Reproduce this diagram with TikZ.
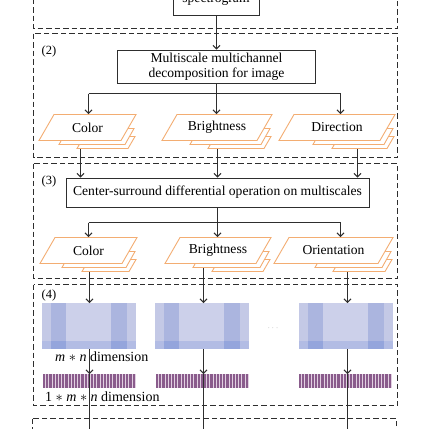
\documentclass[tikz,border=0pt]{standalone}
\usepackage{fontspec}
\setmainfont{Liberation Serif}
\usetikzlibrary{arrows.meta}
\definecolor{lnc}{HTML}{2E2E2E}
\definecolor{orng}{HTML}{F3AD72}
\definecolor{bluebase}{HTML}{C4C9E6}
\definecolor{bluemid}{HTML}{CCD0EA}
\definecolor{bluestripe}{HTML}{ABB5DF}
\definecolor{bluebot}{HTML}{B2BCE4}
\definecolor{bluedark}{HTML}{94A5DC}
\definecolor{purp}{HTML}{8A5C8C}
\definecolor{pinkgap}{HTML}{E2D0E2}
\tikzset{
  grp/.style={draw=lnc, dash pattern=on 5.5pt off 3pt, line width=1pt},
  boxed/.style={draw=lnc, line width=1pt, fill=white, align=center, font=\fontsize{13.6}{15}\selectfont, inner sep=0pt},
  arr/.style={draw=lnc, line width=1pt, -{Straight Barb[length=3.5pt,width=7pt]}},
  plain/.style={draw=lnc, line width=1pt},
  lay/.style={draw=orng, line width=0.9pt, fill=white},
  lbl/.style={font=\fontsize{13.6}{15}\selectfont, inner sep=0pt},
  num/.style={font=\fontsize{12.5}{14}\selectfont, inner sep=0pt},
  dimtext/.style={font=\fontsize{14}{16}\selectfont, inner sep=0pt, anchor=west},
}
% #1 bx, #2 bottom y, #3 width, #4 name, #5 text, #6 layer2 offset, #7 layer3 offset
\newcommand\layerstack[7]{%
  \draw[lay] (#1+#7,#2+8) -- (#1+#3+7,#2+8) -- (#1+#3+14,#2-4) -- (#1+#7+7,#2-4) -- cycle;
  \draw[lay] (#1+#6,#2+4) -- (#1+#3+4,#2+4) -- (#1+#3+13,#2-12) -- (#1+#6+9,#2-12) -- cycle;
  \draw[lay] (#1,#2) -- (#1+#3,#2) -- (#1+#3+15,#2-26) -- (#1+15,#2-26) -- cycle;
  \node[lbl] (#4) at (#1+#3/2+7.5,#2-13) {#5};
}
% #1 left x, #2 name
\newcommand\bluebox[2]{%
  \fill[bluebase] (#1,303) rectangle (#1+94,349);
  \fill[bluemid] (#1+24,303) rectangle (#1+69,341);
  \fill[bluestripe] (#1+9,303) rectangle (#1+24,349);
  \fill[bluestripe] (#1+69,303) rectangle (#1+85,349);
  \fill[bluebot] (#1,341) rectangle (#1+94,349);
  \fill[bluedark] (#1+9,341) rectangle (#1+24,349);
  \fill[bluedark] (#1+69,341) rectangle (#1+85,349);
  \node[minimum width=94pt, minimum height=46pt, inner sep=0pt, anchor=north west] (#2) at (#1,303) {};
}
\newcommand\barcode[2]{%
  \fill[pinkgap] (#1,374) rectangle (#1+93,388);
  \foreach \i in {0,...,28} {\fill[purp] (#1+\i*3.2,374) rectangle ++(2.2,14);}
  \node[minimum width=93pt, minimum height=14pt, inner sep=0pt, anchor=north west] (#2) at (#1,374) {};
}
\begin{document}
\begin{tikzpicture}[x=1pt,y=-1pt]
\useasboundingbox (0,0) rectangle (429,429);
\clip (0,0) rectangle (429,429);
\fill[white] (0,0) rectangle (429,429);

% group frames
\draw[grp] (33.5,-10) rectangle (397.5,28.5);
\draw[grp] (33.5,33.5) rectangle (397.5,157.5);
\draw[grp] (33.5,163.5) rectangle (397.5,278.5);
\draw[grp] (33.5,284.5) rectangle (397.5,405.5);
\draw[grp] (32.5,418.5) rectangle (396.5,440);

\node[num] (n2) at (49,51) {(2)};
\node[num] (n3) at (49,181) {(3)};
\node[num] (n4) at (49,295) {(4)};

% (1)
\node[boxed, minimum width=86pt, minimum height=36pt] (spec) at (216.5,-3) {};
\node[lbl, anchor=base] (spectxt) at (216,2) {spectrogram};

% (2)
\node[boxed, minimum width=198pt, minimum height=33pt] (multi) at (216.5,66.5)
  {Multiscale multichannel\\decomposition for image};
\draw[arr] (spec.south) -- (multi.north);

\layerstack{39}{140.5}{82}{c2}{Color}{20}{38}
\layerstack{162}{140.5}{95}{b2}{Brightness}{28}{46}
\layerstack{279}{140.5}{101}{d2}{Direction}{34}{53}

\coordinate (s2) at (216.5,93.5);
\coordinate (s2l) at (88.5,93.5);
\coordinate (s2r) at (340.5,93.5);
\coordinate (c2t) at (88.5,114);
\coordinate (b2t) at (216.5,114);
\coordinate (d2t) at (340.5,114);
\draw[plain] (multi.south) -- (s2);
\draw[plain] (s2l) -- (s2r);
\draw[arr] (s2l) -- (c2t);
\draw[arr] (s2) -- (b2t);
\draw[arr] (s2r) -- (d2t);

% (3)
\node[boxed, minimum width=303pt, minimum height=29pt] (cs) at (217.5,192.5)
  {Center-surround differential operation on multiscales};
\coordinate (c2o) at (80.5,149);
\coordinate (b2o) at (217.5,149);
\coordinate (d2o) at (357.5,149);
\draw[arr] (c2o) -- (c2o |- cs.north);
\draw[arr] (b2o) -- (b2o |- cs.north);
\draw[arr] (d2o) -- (d2o |- cs.north);

\layerstack{40}{263.5}{82}{c3}{Color}{22}{42}
\layerstack{165}{263.5}{91}{b3}{Brightness}{28}{47}
\layerstack{274}{263.5}{104}{o3}{Orientation}{41}{59}

\coordinate (s3) at (217.5,222.5);
\coordinate (s3l) at (88.5,222.5);
\coordinate (s3r) at (340.5,222.5);
\coordinate (c3t) at (88.5,237);
\coordinate (b3t) at (217.5,237);
\coordinate (o3t) at (340.5,237);
\draw[plain] (cs.south -| s3) -- (s3);
\draw[plain] (s3l) -- (s3r);
\draw[arr] (s3l) -- (c3t);
\draw[arr] (s3) -- (b3t);
\draw[arr] (s3r) -- (o3t);

% (4)
\bluebox{42}{fa}
\bluebox{155}{fb}
\bluebox{299}{fc}
\node[text=gray!60, font=\fontsize{9}{10}\selectfont, inner sep=0pt] (dots) at (273,328) {$\cdots$};

\barcode{43}{va}
\barcode{156}{vb}
\barcode{299}{vc}

\coordinate (c3o) at (89.5,272);
\coordinate (b3o) at (203.5,268);
\coordinate (o3o) at (347.5,272);
\draw[arr] (c3o) -- (c3o |- fa.north);
\draw[arr] (b3o) -- (b3o |- fb.north);
\draw[arr] (o3o) -- (o3o |- fc.north);

\node[dimtext] (mn) at (55,357) {\textit{m} $\ast$ \textit{n}\hspace{3.5pt}dimension};
\node[dimtext] (lmn) at (45,397) {1 $\ast$ \textit{m} $\ast$ \textit{n} dimension};

\coordinate (ea) at (89.5,435);
\coordinate (eb) at (203.5,435);
\coordinate (ec) at (347.5,435);
\draw[arr] (fa.south -| ea) -- (va.north -| ea);
\draw[arr] (fb.south -| eb) -- (vb.north -| eb);
\draw[arr] (fc.south -| ec) -- (vc.north -| ec);
\draw[plain] (va.north -| ea) -- (ea);
\draw[plain] (vb.north -| eb) -- (eb);
\draw[plain] (vc.north -| ec) -- (ec);
\end{tikzpicture}
\end{document}
